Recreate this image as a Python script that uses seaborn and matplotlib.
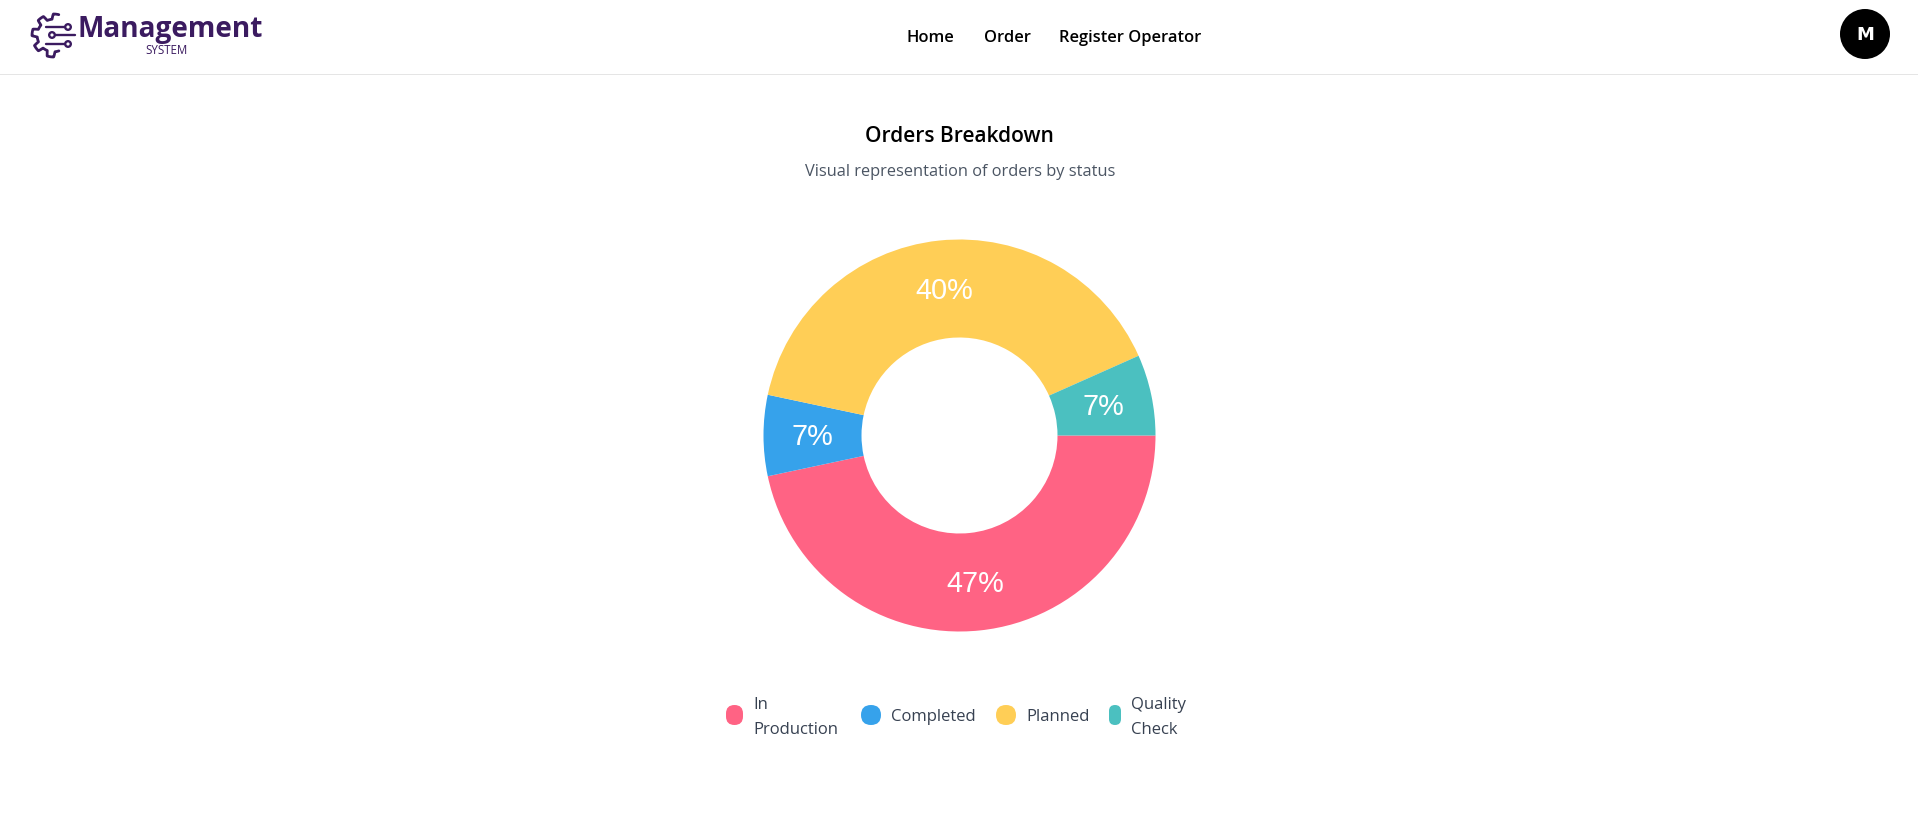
import numpy as np
import matplotlib
matplotlib.use("Agg")
import matplotlib.pyplot as plt
from matplotlib.patches import FancyBboxPatch, Circle, Rectangle
import seaborn as sns

statuses = ["In Production", "Completed", "Planned", "Quality Check"]
order_counts = [7, 1, 6, 1]
slice_colors = ["#FF6384", "#36A2EB", "#FFCE56", "#4BC0C0"]
nav_items = ["Home", "Order", "Register Operator"]

sns.set_theme(style="white", palette=slice_colors)
W, H = 1918, 827
FONT = "Open Sans"
PURPLE = "#3b1b60"
palette = sns.color_palette(slice_colors)

fig = plt.figure(figsize=(W / 100, H / 100), dpi=100, facecolor="white")

# page layer in pixel coordinates
bg = fig.add_axes([0, 0, 1, 1])
bg.set_xlim(0, W)
bg.set_ylim(H, 0)
bg.axis("off")
bg.add_patch(Rectangle((0, 73.5), W, 1.5, color="#e5e5e5", lw=0))

# logo
bg.text(78, 29.5, "Management", family=FONT, weight="bold", size=20.2, color=PURPLE, ha="left", va="center")
bg.text(166.5, 50, "SYSTEM", family=FONT, size=8.3, color=PURPLE, ha="center", va="center")
t = np.linspace(0, 2 * np.pi, 500)
r = 18.9 + 2.6 * np.clip(3 * np.sin(8 * t + 0.4), -1, 1)
gx = 53.5 + r * np.cos(t)
gy = 35.5 + r * np.sin(t)
mask = gx < 59
bg.plot(np.where(mask, gx, np.nan), np.where(mask, gy, np.nan), color=PURPLE, lw=2.0)
for yy, x0, x1, cx in [(27, 46, 68, 68), (35, 52, 75, 52), (44, 46, 68, 68)]:
    bg.plot([x0, x1], [yy, yy], color=PURPLE, lw=1.7, solid_capstyle="round")
    bg.add_patch(Circle((cx, yy), 2.8, fc="white", ec=PURPLE, lw=1.7, zorder=3))

# navigation
for label, xc in zip(nav_items, [930, 1007.7, 1130.2]):
    bg.text(xc, 37.5, label, family=FONT, weight="semibold", size=11.9, color="black", ha="center", va="center")
bg.add_patch(Circle((1865, 34), 25, color="black", lw=0))
bg.text(1865, 35, "M", family="DejaVu Sans", weight="bold", size=13, color="white", ha="center", va="center")

# headings
bg.text(959.5, 136.5, "Orders Breakdown", family=FONT, weight="semibold", size=15, color="black", ha="center", va="center")
bg.text(960.5, 172.5, "Visual representation of orders by status", family=FONT, size=11.75, color="#4b5563", ha="center", va="center")

# doughnut
R = 196
ax = fig.add_axes([(959.5 - R) / W, 1 - (435.5 + R) / H, 2 * R / W, 2 * R / H])
wedges, _, autotexts = ax.pie(
    order_counts,
    colors=palette,
    startangle=0,
    counterclock=False,
    radius=1.0,
    autopct=lambda p: f"{p:.0f}%",
    pctdistance=0.75,
    wedgeprops=dict(width=0.5, linewidth=0),
    textprops=dict(family="Liberation Sans", size=20.8, color="white"),
)
for a in autotexts:
    px, py = a.get_position()
    a.set_position((px, py - 2.0 / R))
ax.set_xlim(-1, 1)
ax.set_ylim(-1, 1)

# legend
swatches = [(726, 743), (861, 881), (996, 1016), (1109, 1121)]
lines = [["In", "Production"], ["Completed"], ["Planned"], ["Quality", "Check"]]
text_x = [753.5, 891, 1026, 1131]
for (x0, x1), c, ls, tx in zip(swatches, palette, lines, text_x):
    w = x1 - x0
    rad = min(w, 20) / 2
    bg.add_patch(FancyBboxPatch((x0 + rad, 705 + rad), w - 2 * rad, 20 - 2 * rad,
                                boxstyle=f"round,pad={rad}", fc=c, ec="none"))
    ys = [717] if len(ls) == 1 else [705, 730]
    for s, y in zip(ls, ys):
        bg.text(tx, y, s, family=FONT, size=12.0, color="#374151", ha="left", va="center")

fig.savefig("out.png", dpi=100, facecolor="white")
